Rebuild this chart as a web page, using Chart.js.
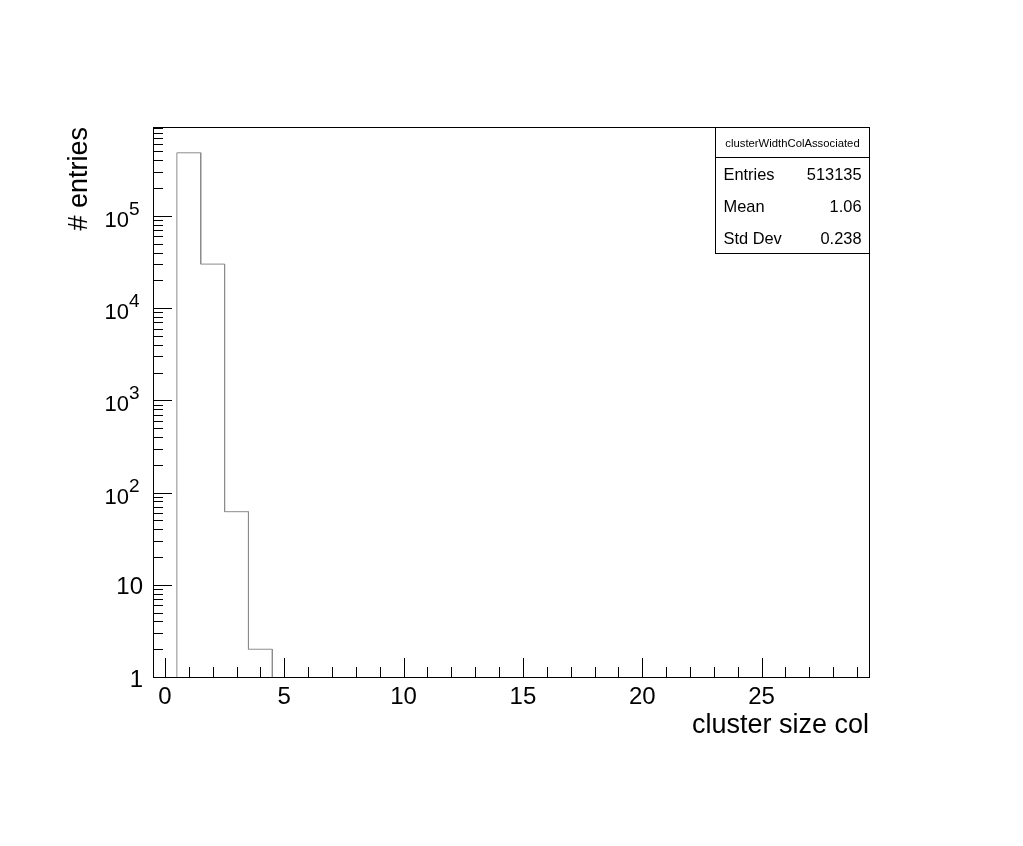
<!DOCTYPE html>
<html>
<head>
<meta charset="utf-8">
<title>clusterWidthColAssociated</title>
<script src="https://cdn.jsdelivr.net/npm/chart.js@4/dist/chart.umd.min.js"></script>
<style>
  html, body { margin: 0; padding: 0; background: #fff; }
  canvas { display: block; }
</style>
</head>
<body>
<canvas id="histo" width="1023" height="846"></canvas>
<script>
'use strict';

// ************************* DATA **********************************
const binCenters = [0, 1, 2, 3, 4, 5, 6, 7, 8, 9, 10, 11, 12, 13, 14, 15, 16, 17, 18, 19, 20, 21, 22, 23, 24, 25, 26, 27, 28, 29];
const binCounts = [0, 483000, 30000, 62, 2, 0, 0, 0, 0, 0, 0, 0, 0, 0, 0, 0, 0, 0, 0, 0, 0, 0, 0, 0, 0, 0, 0, 0, 0, 0];
const binWidth = 1;
const xRange = [-0.5, 29.5];
const yRange = [1, 9.2e5];
const xMajorTicks = [0, 5, 10, 15, 20, 25];
const yMajorTicks = [1, 10, 100, 1000, 10000, 100000];
const yTickBase = ['1', '10', '10', '10', '10', '10'];
const yTickExp = ['', '', '2', '3', '4', '5'];
const xTitle = 'cluster size col';
const yTitle = '# entries';
const statsTitle = 'clusterWidthColAssociated';
const statsLabels = ['Entries', 'Mean', 'Std Dev'];
const statsValues = ['513135', '1.06', '0.238'];

// ************************ HELPERS ********************************
const FONT = '"Liberation Sans", Arial, Helvetica, sans-serif';

// outline of the filled bins, ROOT style (drops to the axis at both ends)
const buildOutline = () => {
  const pts = [];
  const filled = binCounts.map((c, i) => (c > 0 ? i : -1)).filter(i => i >= 0);
  const first = filled[0];
  const last = filled[filled.length - 1];
  pts.push({ x: binCenters[first] - binWidth / 2, y: yRange[0] });
  for (let i = first; i <= last; i++) {
    const y = Math.max(binCounts[i], yRange[0]);
    pts.push({ x: binCenters[i] - binWidth / 2, y: y });
    pts.push({ x: binCenters[i] + binWidth / 2, y: y });
  }
  pts.push({ x: binCenters[last] + binWidth / 2, y: yRange[0] });
  return pts;
};

// inner ticks, frame, y labels with exponents and stats box
const rootFrame = {
  id: 'rootFrame',
  afterDatasetsDraw(chart) {
    const ctx = chart.ctx;
    const area = chart.chartArea;
    const xs = chart.scales.x;
    const ys = chart.scales.y;
    ctx.save();
    ctx.strokeStyle = '#000';
    ctx.lineWidth = 1;
    ctx.beginPath();
    // x ticks every bin, major every 5
    for (let v = Math.ceil(xRange[0]); v <= xRange[1]; v++) {
      const px = Math.round(xs.getPixelForValue(v)) + 0.5;
      const len = xMajorTicks.includes(v) ? 19 : 10;
      ctx.moveTo(px, area.bottom);
      ctx.lineTo(px, area.bottom - len);
    }
    // y ticks: decades + 2..9
    for (let d = 1; d <= 1e6; d *= 10) {
      for (let m = 1; m <= 9; m++) {
        const v = d * m;
        if (v < yRange[0] || v > yRange[1]) continue;
        const py = Math.round(ys.getPixelForValue(v)) + 0.5;
        const len = m === 1 ? 19 : 10;
        ctx.moveTo(area.left, py);
        ctx.lineTo(area.left + len, py);
      }
    }
    ctx.stroke();
    ctx.strokeRect(Math.round(area.left) + 0.5, Math.round(area.top) + 0.5,
      Math.round(area.right - area.left), Math.round(area.bottom - area.top));

    // y tick labels, 10 with raised exponent
    ctx.fillStyle = '#000';
    ctx.textBaseline = 'alphabetic';
    ctx.textAlign = 'left';
    for (let i = 0; i < yMajorTicks.length; i++) {
      const py = ys.getPixelForValue(yMajorTicks[i]);
      if (yTickExp[i]) {
        ctx.font = '22px ' + FONT;
        const baseW = ctx.measureText(yTickBase[i]).width;
        ctx.font = '19px ' + FONT;
        const expW = ctx.measureText(yTickExp[i]).width;
        const x0 = area.left - 13.5 - expW - baseW;
        ctx.fillText(yTickExp[i], x0 + baseW, py - 1);
        ctx.font = '22px ' + FONT;
        ctx.fillText(yTickBase[i], x0, py + 11);
      } else {
        ctx.font = '24px ' + FONT;
        const baseW = ctx.measureText(yTickBase[i]).width;
        ctx.fillText(yTickBase[i], area.left - 10 - baseW, py + 9.5);
      }
    }

    // stats box
    const bx = 715.5;
    const by = Math.round(area.top) + 0.5;
    const bw = Math.round(area.right) + 0.5 - bx;
    const bh = 126;
    ctx.fillStyle = '#fff';
    ctx.fillRect(bx, by, bw, bh);
    ctx.strokeRect(bx, by, bw, bh);
    ctx.beginPath();
    ctx.moveTo(bx, by + 30);
    ctx.lineTo(bx + bw, by + 30);
    ctx.stroke();
    ctx.fillStyle = '#000';
    ctx.textBaseline = 'middle';
    ctx.textAlign = 'center';
    ctx.font = '11.3px ' + FONT;
    ctx.fillText(statsTitle, bx + bw / 2, by + 16);
    ctx.font = '16.4px ' + FONT;
    for (let i = 0; i < statsLabels.length; i++) {
      const ty = by + 48 + i * 32;
      ctx.textAlign = 'left';
      ctx.fillText(statsLabels[i], bx + 8, ty);
      ctx.textAlign = 'right';
      ctx.fillText(statsValues[i], bx + bw - 8, ty);
    }
    ctx.restore();
  }
};

// ************************ CHART ********************************
const canvas = document.querySelector('#histo');
new Chart(canvas, {
  type: 'line',
  data: {
    datasets: [{
      data: buildOutline(),
      borderColor: '#8c8c8c',
      borderWidth: 1,
      pointRadius: 0,
      tension: 0,
      fill: false
    }]
  },
  options: {
    responsive: false,
    animation: false,
    events: [],
    layout: { padding: { top: 127, right: 154, left: 60, bottom: 89 } },
    plugins: { legend: { display: false }, tooltip: { enabled: false } },
    scales: {
      x: {
        type: 'linear',
        min: xRange[0],
        max: xRange[1],
        afterFit: scale => { scale.height = 80; },
        afterBuildTicks: scale => { scale.ticks = xMajorTicks.map(v => ({ value: v })); },
        grid: { drawOnChartArea: false, drawTicks: false },
        border: { display: true, color: '#000', width: 1 },
        ticks: {
          autoSkip: false,
          maxRotation: 0,
          padding: 6,
          color: '#000',
          font: { family: FONT, size: 24 },
          callback: v => String(v)
        },
        title: {
          display: true,
          text: xTitle,
          align: 'end',
          color: '#000',
          font: { family: FONT, size: 27 },
          padding: { top: 0, bottom: 15 }
        }
      },
      y: {
        type: 'logarithmic',
        min: yRange[0],
        max: yRange[1],
        afterFit: scale => { scale.width = 93; },
        afterBuildTicks: scale => { scale.ticks = yMajorTicks.map(v => ({ value: v })); },
        grid: { drawOnChartArea: false, drawTicks: false },
        border: { display: true, color: '#000', width: 1 },
        ticks: { display: false },
        title: {
          display: true,
          text: yTitle,
          align: 'end',
          color: '#000',
          font: { family: FONT, size: 27 },
          padding: { top: 3, bottom: 0 }
        }
      }
    }
  },
  plugins: [rootFrame]
});
</script>
</body>
</html>
